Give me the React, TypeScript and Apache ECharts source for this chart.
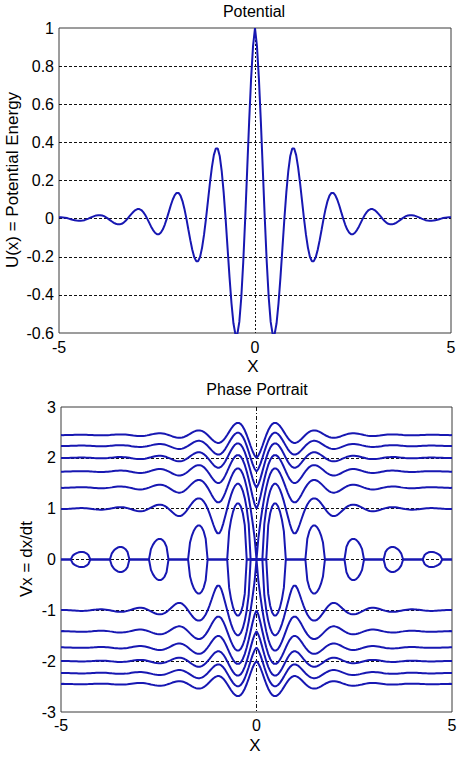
import React, { useEffect, useRef } from "react";
import * as echarts from "echarts";

// x grid: 0 .. 5 in steps of 0.05 (mirrored for negative x)
const X_STEP = 0.05;
const X_MIN = -5;
const X_MAX = 5;

// Potential U(x), x = 0, 0.05, ..., 5 (symmetric in x)
const U_HALF = [
  1.000, 0.905, 0.732, 0.506, 0.253, 0, -0.229, -0.414, -0.542, -0.606,
  -0.607, -0.549, -0.444, -0.307, -0.154, 0, 0.139, 0.251, 0.329, 0.368,
  0.368, 0.333, 0.269, 0.186, 0.093, 0, -0.084, -0.152, -0.200, -0.223,
  -0.223, -0.202, -0.163, -0.113, -0.057, 0, 0.051, 0.092, 0.121, 0.135,
  0.135, 0.122, 0.099, 0.069, 0.034, 0, -0.031, -0.056, -0.073, -0.082,
  -0.082, -0.074, -0.060, -0.042, -0.021, 0, 0.019, 0.034, 0.045, 0.050,
  0.050, 0.045, 0.036, 0.025, 0.013, 0, -0.011, -0.021, -0.027, -0.030,
  -0.030, -0.027, -0.022, -0.015, -0.008, 0, 0.007, 0.013, 0.016, 0.018,
  0.018, 0.017, 0.013, 0.009, 0.005, 0, -0.004, -0.008, -0.010, -0.011,
  -0.011, -0.010, -0.008, -0.006, -0.003, 0, 0.003, 0.005, 0.006, 0.007,
  0.007,
];

// Phase portrait trajectories |Vx| (same x grid)
const V_E0 = [
  0, 0, 0, 0, 0, 0, 0.677, 0.910, 1.042, 1.101,
  1.101, 1.047, 0.942, 0.784, 0.554, 0, 0, 0, 0, 0,
  0, 0, 0, 0, 0, 0, 0.410, 0.552, 0.632, 0.668,
  0.668, 0.636, 0.572, 0.475, 0.336, 0, 0, 0, 0, 0,
  0, 0, 0, 0, 0, 0, 0.249, 0.335, 0.383, 0.405,
  0.405, 0.386, 0.346, 0.288, 0.205, 0, 0, 0, 0, 0,
  0, 0, 0, 0, 0, 0, 0.152, 0.202, 0.232, 0.245,
  0.245, 0.235, 0.210, 0.176, 0.122, 0, 0, 0, 0, 0,
  0, 0, 0, 0, 0, 0, 0.089, 0.122, 0.141, 0.148,
  0.148, 0.141, 0.126, 0.105, 0.077, 0, 0, 0, 0, 0,
  0,
];
const V_E05 = [
  0, 0, 0, 0, 0.703, 1.000, 1.207, 1.352, 1.444, 1.488,
  1.488, 1.448, 1.374, 1.270, 1.143, 1.000, 0.850, 0.706, 0.585, 0.514,
  0.514, 0.578, 0.679, 0.792, 0.902, 1.000, 1.081, 1.142, 1.183, 1.202,
  1.202, 1.185, 1.152, 1.107, 1.055, 1.000, 0.948, 0.903, 0.871, 0.854,
  0.854, 0.869, 0.896, 0.929, 0.965, 1.000, 1.031, 1.055, 1.071, 1.079,
  1.079, 1.072, 1.058, 1.041, 1.021, 1.000, 0.981, 0.965, 0.954, 0.949,
  0.949, 0.954, 0.963, 0.975, 0.987, 1.000, 1.011, 1.020, 1.027, 1.030,
  1.030, 1.027, 1.022, 1.015, 1.007, 1.000, 0.993, 0.987, 0.983, 0.981,
  0.981, 0.983, 0.986, 0.990, 0.995, 1.000, 1.004, 1.007, 1.010, 1.011,
  1.011, 1.010, 1.008, 1.005, 1.003, 1.000, 0.997, 0.995, 0.994, 0.993,
  0.993,
];
const V_E1 = [
  0, 0.437, 0.732, 0.994, 1.222, 1.414, 1.568, 1.682, 1.756, 1.792,
  1.792, 1.760, 1.699, 1.617, 1.519, 1.414, 1.312, 1.224, 1.158, 1.124,
  1.124, 1.155, 1.209, 1.276, 1.347, 1.414, 1.472, 1.518, 1.549, 1.564,
  1.564, 1.550, 1.525, 1.492, 1.454, 1.414, 1.378, 1.347, 1.326, 1.315,
  1.315, 1.325, 1.342, 1.365, 1.390, 1.414, 1.436, 1.453, 1.465, 1.471,
  1.471, 1.466, 1.456, 1.443, 1.429, 1.414, 1.401, 1.390, 1.382, 1.379,
  1.378, 1.382, 1.388, 1.396, 1.405, 1.414, 1.422, 1.429, 1.433, 1.435,
  1.435, 1.434, 1.430, 1.425, 1.419, 1.414, 1.409, 1.405, 1.403, 1.401,
  1.401, 1.403, 1.405, 1.407, 1.411, 1.414, 1.417, 1.419, 1.421, 1.422,
  1.422, 1.421, 1.420, 1.418, 1.416, 1.414, 1.412, 1.411, 1.410, 1.409,
  1.410,
];
const V_E15 = [
  1.000, 1.091, 1.239, 1.410, 1.579, 1.732, 1.860, 1.957, 2.021, 2.053,
  2.053, 2.024, 1.972, 1.901, 1.819, 1.732, 1.650, 1.580, 1.530, 1.505,
  1.505, 1.528, 1.569, 1.621, 1.678, 1.732, 1.780, 1.818, 1.844, 1.856,
  1.856, 1.845, 1.824, 1.796, 1.764, 1.732, 1.702, 1.678, 1.661, 1.652,
  1.652, 1.660, 1.674, 1.692, 1.712, 1.732, 1.750, 1.764, 1.774, 1.779,
  1.779, 1.775, 1.766, 1.756, 1.744, 1.732, 1.721, 1.712, 1.706, 1.703,
  1.703, 1.706, 1.711, 1.718, 1.725, 1.732, 1.739, 1.744, 1.748, 1.749,
  1.749, 1.748, 1.745, 1.741, 1.736, 1.732, 1.728, 1.725, 1.722, 1.721,
  1.721, 1.722, 1.724, 1.727, 1.729, 1.732, 1.734, 1.736, 1.738, 1.738,
  1.738, 1.738, 1.737, 1.735, 1.734, 1.732, 1.731, 1.729, 1.729, 1.728,
  1.728,
];
const V_E2 = [
  1.414, 1.480, 1.592, 1.729, 1.869, 2.000, 2.111, 2.197, 2.255, 2.283,
  2.283, 2.258, 2.211, 2.148, 2.075, 2.000, 1.929, 1.870, 1.828, 1.807,
  1.807, 1.826, 1.860, 1.905, 1.953, 2.000, 2.042, 2.075, 2.097, 2.109,
  2.109, 2.099, 2.080, 2.056, 2.028, 2.000, 1.974, 1.953, 1.939, 1.931,
  1.931, 1.938, 1.950, 1.965, 1.983, 2.000, 2.015, 2.028, 2.036, 2.041,
  2.041, 2.037, 2.030, 2.021, 2.010, 2.000, 1.990, 1.983, 1.978, 1.975,
  1.975, 1.978, 1.982, 1.987, 1.994, 2.000, 2.006, 2.010, 2.013, 2.015,
  2.015, 2.014, 2.011, 2.008, 2.004, 2.000, 1.996, 1.994, 1.992, 1.991,
  1.991, 1.992, 1.993, 1.995, 1.998, 2.000, 2.002, 2.004, 2.005, 2.005,
  2.005, 2.005, 2.004, 2.003, 2.001, 2.000, 1.999, 1.998, 1.997, 1.997,
  1.997,
];
const V_E25 = [
  1.732, 1.786, 1.880, 1.997, 2.120, 2.236, 2.336, 2.414, 2.467, 2.493,
  2.493, 2.469, 2.427, 2.369, 2.304, 2.236, 2.173, 2.121, 2.084, 2.065,
  2.065, 2.082, 2.112, 2.151, 2.194, 2.236, 2.273, 2.303, 2.324, 2.334,
  2.334, 2.325, 2.308, 2.286, 2.261, 2.236, 2.213, 2.194, 2.181, 2.175,
  2.175, 2.181, 2.191, 2.205, 2.221, 2.236, 2.250, 2.261, 2.269, 2.272,
  2.272, 2.269, 2.263, 2.255, 2.245, 2.236, 2.228, 2.221, 2.216, 2.214,
  2.214, 2.216, 2.220, 2.225, 2.230, 2.236, 2.241, 2.245, 2.248, 2.249,
  2.249, 2.248, 2.246, 2.243, 2.240, 2.236, 2.233, 2.230, 2.229, 2.228,
  2.228, 2.229, 2.230, 2.232, 2.234, 2.236, 2.238, 2.240, 2.241, 2.241,
  2.241, 2.241, 2.240, 2.239, 2.237, 2.236, 2.235, 2.234, 2.233, 2.233,
  2.233,
];
const V_E3 = [
  2.000, 2.047, 2.130, 2.233, 2.344, 2.449, 2.541, 2.613, 2.662, 2.686,
  2.686, 2.664, 2.625, 2.572, 2.511, 2.449, 2.392, 2.345, 2.311, 2.294,
  2.294, 2.310, 2.337, 2.372, 2.411, 2.449, 2.484, 2.511, 2.530, 2.539,
  2.539, 2.531, 2.515, 2.495, 2.472, 2.449, 2.429, 2.411, 2.400, 2.394,
  2.394, 2.399, 2.409, 2.421, 2.436, 2.449, 2.462, 2.472, 2.479, 2.483,
  2.483, 2.480, 2.474, 2.466, 2.458, 2.449, 2.442, 2.436, 2.431, 2.429,
  2.429, 2.431, 2.435, 2.439, 2.444, 2.449, 2.454, 2.458, 2.460, 2.461,
  2.461, 2.460, 2.458, 2.456, 2.453, 2.449, 2.446, 2.444, 2.443, 2.442,
  2.442, 2.443, 2.444, 2.446, 2.448, 2.449, 2.451, 2.452, 2.453, 2.454,
  2.454, 2.453, 2.453, 2.452, 2.451, 2.449, 2.448, 2.448, 2.447, 2.446,
  2.447,
];

const PHASE_CURVES = [V_E0, V_E05, V_E1, V_E15, V_E2, V_E25, V_E3];

const U_TICK = { min: -0.6, max: 1, interval: 0.2 };
const V_TICK = { min: -3, max: 3, interval: 1 };
const X_TICK = { min: X_MIN, max: X_MAX, interval: 5 };

const TITLES = ["Potential", "Phase Portrait"];
const Y_NAMES = ["U(x) = Potential Energy", "Vx = dx/dt"];
const X_NAME = "X";

function mirrored(half: number[], sign: number): number[][] {
  const pts: number[][] = [];
  for (let i = half.length - 1; i > 0; i--) {
    pts.push([+(-i * X_STEP).toFixed(2), sign * half[i]]);
  }
  for (let i = 0; i < half.length; i++) {
    pts.push([+(i * X_STEP).toFixed(2), sign * half[i]]);
  }
  return pts;
}

const FONT = '"Liberation Sans", Arial, sans-serif';
const LINE_COLOR = "#1717b2";
const BORDER = "#3a3a3a";

export default function App() {
  const ref = useRef<HTMLDivElement>(null);

  useEffect(() => {
    if (!ref.current) return;
    const chart = echarts.init(ref.current, null, { renderer: "svg" });

    const grids = [
      { left: 59, top: 28, width: 392, height: 305 },
      { left: 61, top: 407, width: 391, height: 305 },
    ];

    const gridLine = (type: number[]) => ({
      show: true,
      showMinLine: false,
      showMaxLine: false,
      lineStyle: { color: "#111", width: 1, type },
    });

    const axisLabel = (margin: number) => ({
      color: "#000",
      fontSize: 16,
      fontFamily: FONT,
      margin,
    });

    const xAxes = [0, 1].map((g) => ({
      type: "value",
      gridIndex: g,
      ...X_TICK,
      axisLine: { show: false, onZero: false },
      axisTick: { show: false },
      axisLabel: axisLabel(g === 0 ? 6 : 5),
      splitLine: gridLine(g === 0 ? [2, 2] : [4, 2, 1, 2]),
    }));

    const yAxes = [U_TICK, V_TICK].map((t, g) => ({
      type: "value",
      gridIndex: g,
      ...t,
      axisLine: { show: false, onZero: false },
      axisTick: { show: false },
      axisLabel: axisLabel(5),
      splitLine: gridLine([3, 2]),
    }));

    const series: any[] = [
      {
        type: "line",
        xAxisIndex: 0,
        yAxisIndex: 0,
        data: mirrored(U_HALF, 1),
        showSymbol: false,
        symbol: "none",
        lineStyle: { color: LINE_COLOR, width: 2 },
        clip: true,
        silent: true,
      },
    ];
    PHASE_CURVES.forEach((half) => {
      [1, -1].forEach((sign) => {
        series.push({
          type: "line",
          xAxisIndex: 1,
          yAxisIndex: 1,
          data: mirrored(half, sign),
          showSymbol: false,
          symbol: "none",
          lineStyle: { color: LINE_COLOR, width: 2 },
          clip: true,
          silent: true,
        });
      });
    });

    const txt = (text: string, x: number, y: number, size: number, rot = 0) => ({
      type: "text",
      x,
      y,
      rotation: rot,
      silent: true,
      style: {
        text,
        fill: "#000",
        font: `${size}px ${FONT}`,
        align: "center",
        verticalAlign: "middle",
      },
    });

    chart.setOption({
      animation: false,
      backgroundColor: "#fff",
      grid: grids.map((g) => ({
        ...g,
        show: true,
        borderColor: BORDER,
        borderWidth: 1,
        backgroundColor: "transparent",
      })),
      xAxis: xAxes,
      yAxis: yAxes,
      series,
      graphic: [
        txt(TITLES[0], 254, 11, 16),
        txt(TITLES[1], 257, 389, 16),
        txt(Y_NAMES[0], 12, 180, 17, Math.PI / 2),
        txt(Y_NAMES[1], 26, 559, 17, Math.PI / 2),
        txt(X_NAME, 253, 366, 17),
        txt(X_NAME, 255, 745, 17),
      ],
    });

    return () => chart.dispose();
  }, []);

  return (
    <div
      ref={ref}
      style={{
        position: "absolute",
        left: 0,
        top: 0,
        width: 474,
        height: 758,
        background: "#fff",
      }}
    />
  );
}
